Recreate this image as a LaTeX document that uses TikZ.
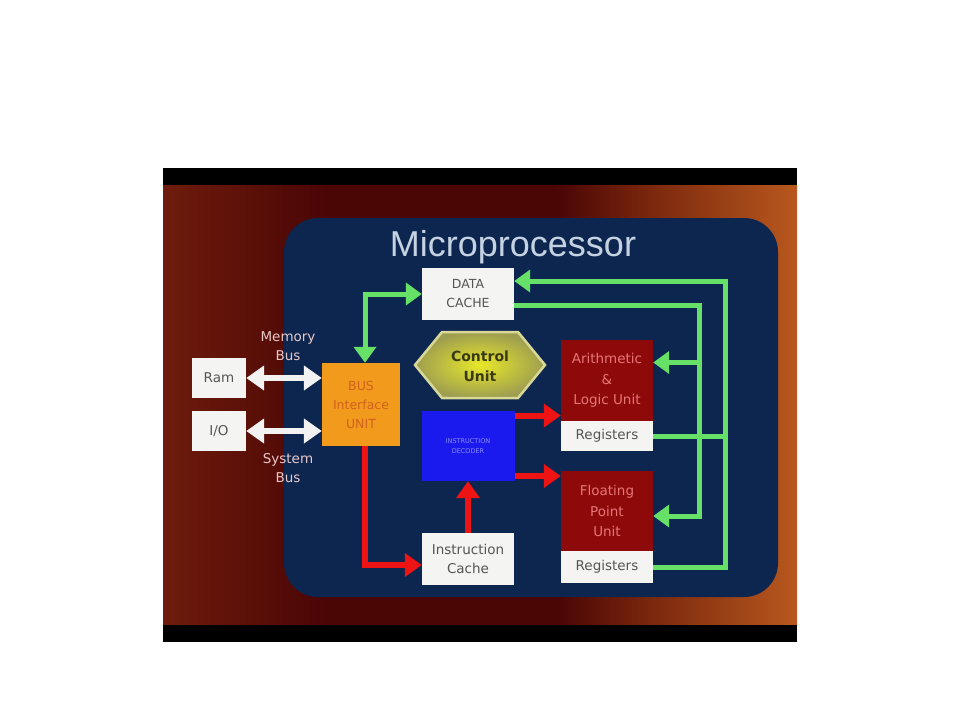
\documentclass[tikz,border=0pt]{standalone}
\usepackage{fontspec}
\setmainfont{DejaVu Sans}
\newfontfamily\titlefont{Liberation Sans}
\usetikzlibrary{arrows.meta}
\definecolor{bgl}{HTML}{6E1C0C}
\definecolor{bgm}{HTML}{4A0505}
\definecolor{bgo}{HTML}{7E2A0E}
\definecolor{bgr}{HTML}{B8581E}
\definecolor{panelblue}{HTML}{0C2650}
\definecolor{titlecol}{HTML}{C5D2E2}
\definecolor{boxwhite}{HTML}{F4F4F2}
\definecolor{boxtext}{HTML}{555555}
\definecolor{darkred}{HTML}{8E0A0A}
\definecolor{pinktext}{HTML}{E67676}
\definecolor{biuorange}{HTML}{F29A1C}
\definecolor{biutext}{HTML}{D0621E}
\definecolor{decblue}{HTML}{1A1AEE}
\definecolor{dectext}{HTML}{8C8CFF}
\definecolor{hexedge}{HTML}{D8D898}
\definecolor{hexfill}{HTML}{9E9E50}
\definecolor{hexglow}{HTML}{E8E82A}
\definecolor{hextext}{HTML}{3A3A12}
\definecolor{grn}{HTML}{66E066}
\definecolor{redarr}{HTML}{EE1414}
\definecolor{whitearr}{HTML}{F2F2F2}
\definecolor{buslabel}{HTML}{E8C8C8}
\pgfdeclarehorizontalshading{bgshade}{100bp}{color(0bp)=(bgl); color(25bp)=(bgl); color(38bp)=(bgm); color(56bp)=(bgm); color(64bp)=(bgo); color(75bp)=(bgr); color(100bp)=(bgr)}
\tikzset{
  gtip/.tip={Triangle[length=16pt,width=22pt]},
  rtip/.tip={Triangle[length=17pt,width=23pt]},
  wtip/.tip={Triangle[length=18pt,width=24pt]},
}
\begin{document}
\begin{tikzpicture}[x=1pt,y=-1pt,
  every node/.style={inner sep=0pt, align=center},
  wbox/.style={fill=boxwhite, text=boxtext, font=\fontsize{13.5}{19}\selectfont},
  rbox/.style={fill=darkred, text=pinktext, minimum width=92pt, font=\fontsize{13.5}{20.5}\selectfont},
  buslbl/.style={text=buslabel, font=\fontsize{13.5}{19}\selectfont},
  gline/.style={draw=grn, line width=5pt},
  rline/.style={draw=redarr, line width=6pt},
  wline/.style={draw=whitearr, line width=6pt},
]
\useasboundingbox (0,0) rectangle (960,720);
\fill[white] (0,0) rectangle (960,720);
\shade[shading=bgshade] (163,185) rectangle (797,625);
\fill[black] (163,168) rectangle (797,185);
\fill[black] (163,625) rectangle (797,642);

% panel
\node[fill=panelblue, rounded corners=34pt, minimum width=494pt, minimum height=379pt] (panel) at (531,407.5) {};
\node[text=titlecol, font=\titlefont\fontsize{36}{40}\selectfont] (title) at (513,247) {Microprocessor};

% control unit hexagon
\begin{scope}[shift={(480,365)}]
\shadedraw[inner color=hexglow, outer color=hexfill, draw=hexedge, line width=2.5pt]
  (-65,0) -- (-38,-33) -- (38,-33) -- (65,0) -- (38,33) -- (-38,33) -- cycle;
\end{scope}
\node[text=hextext, font=\bfseries\fontsize{14}{20}\selectfont] (ctrl) at (480,366) {Control\\Unit};

% boxes
\node[wbox, minimum width=92pt, minimum height=52pt, font=\fontsize{12.5}{19}\selectfont] (dcache) at (468,294) {DATA\\CACHE};
\node[rbox, minimum height=81pt] (alu) at (607,380.5) {Arithmetic\\\&\\Logic Unit};
\node[wbox, minimum width=92pt, minimum height=30pt] (reg1) at (607,436) {Registers};
\node[rbox, minimum height=80pt] (fpu) at (607,511) {Floating\\Point\\Unit};
\node[wbox, minimum width=92pt, minimum height=32pt] (reg2) at (607,567) {Registers};
\node[fill=decblue, text=dectext, minimum width=93pt, minimum height=70pt, font=\fontsize{6.5}{10}\selectfont] (dec) at (468,446) {INSTRUCTION\\DECODER};
\node[wbox, minimum width=92pt, minimum height=52pt] (icache) at (468,559) {Instruction\\Cache};
\node[fill=biuorange, text=biutext, minimum width=78pt, minimum height=83pt, font=\fontsize{12.5}{19}\selectfont] (biu) at (361,404.5) {BUS\\Interface\\UNIT};
\node[wbox, minimum width=54pt, minimum height=40pt] (ram) at (219,378) {Ram};
\node[wbox, minimum width=54pt, minimum height=40pt] (io) at (219,431) {I/O};
\node[buslbl] (membus) at (288,346) {Memory\\Bus};
\node[buslbl] (sysbus) at (288,468) {System\\Bus};

% white bus arrows
\draw[wline, {wtip}-{wtip}] (ram.east) -- (ram.east -| biu.west);
\draw[wline, {wtip}-{wtip}] (io.east) -- (io.east -| biu.west);

% green data paths
\coordinate (ox) at (725,0);
\coordinate (ix) at (699,0);
\coordinate (dco) at ([yshift=13pt]dcache.east);
\coordinate (dci) at ([yshift=-11pt]dcache.east);
\coordinate (alua) at ([yshift=18pt]alu.east);
\coordinate (fpua) at ([yshift=-5pt]fpu.east);
\coordinate (biun) at ([xshift=4pt]biu.north);
\draw[gline, {gtip}-{gtip}] (biun) |- (dcache.west);
\draw[gline, {gtip}-] (dco) -- (dco -| ox) |- (reg2.east);
\draw[gline] (reg1.east) -- (reg1.east -| ox);
\draw[gline, -{gtip}] (dci) -- (dci -| ix) |- (fpua);
\draw[gline, -{gtip}] (alua -| ix) -- (alua);

% red instruction paths
\coordinate (ica) at ([yshift=-6pt]icache.west);
\coordinate (bius) at ([xshift=4pt]biu.south);
\coordinate (ra) at ([yshift=-35pt]alu.west);
\coordinate (rf) at ([yshift=35pt]fpu.west);
\draw[rline, -{rtip}] (bius) |- (ica);
\draw[rline, -{rtip}] (icache.north) -- (dec.south);
\draw[rline, -{rtip}] (ra -| dec.east) -- (ra);
\draw[rline, -{rtip}] (rf -| dec.east) -- (rf);
\end{tikzpicture}
\end{document}
